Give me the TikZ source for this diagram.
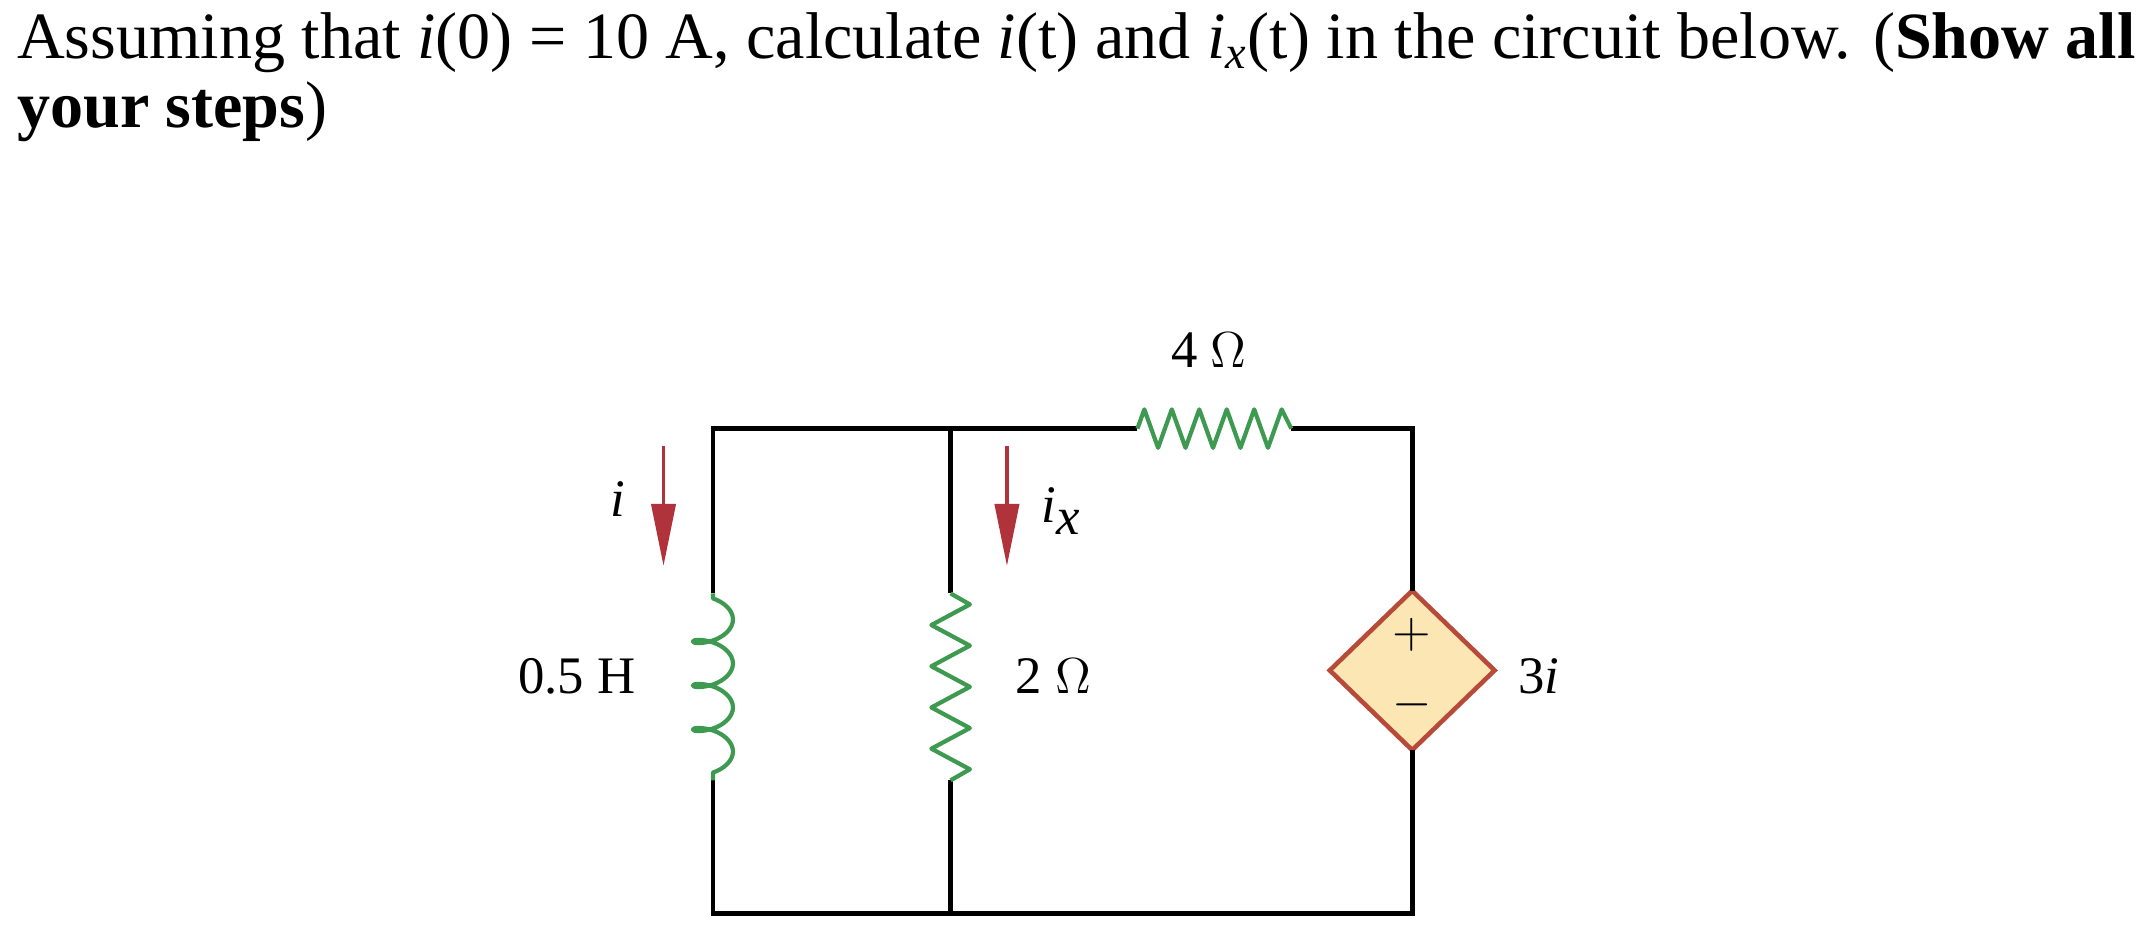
\documentclass[tikz,border=0pt]{standalone}
\usepackage{fontspec}
\setmainfont{Liberation Serif}
\usetikzlibrary{decorations.pathmorphing,arrows.meta}
\definecolor{wgreen}{HTML}{3E9A50}
\definecolor{ared}{HTML}{B0323A}
\definecolor{dfill}{HTML}{FBE6B4}
\definecolor{dborder}{HTML}{B84A3A}
\tikzset{
 wire/.style={line width=1.4pt,black},
 comp/.style={line width=1.2pt,wgreen,line join=round},
 curarrow/.style={line width=1.1pt,ared,-{Triangle[length=0.62cm,width=0.24cm]}},
 lbl/.style={font=\fontsize{15}{18}\selectfont,inner sep=0pt},
}
\begin{document}
\begin{tikzpicture}[x=0.01374cm,y=-0.01374cm]
\useasboundingbox (0,0) rectangle (1568,688);
\node[anchor=north west,align=left,inner sep=0pt,font=\fontsize{18.8}{19.5}\selectfont] (title) at (12,9)
 {Assuming that \textit{i}(0) = 10 A, calculate \textit{i}(t) and \textit{i\textsubscript{x}}(t) in the circuit below. (\textbf{Show all}\\ \textbf{your steps})};
% nodes
\coordinate (tl) at (519,312); \coordinate (tm) at (692,312); \coordinate (tr) at (1028,312);
\coordinate (bl) at (519,665); \coordinate (bm) at (692,665); \coordinate (br) at (1028,665);
\coordinate (la) at (519,432); \coordinate (lb) at (519,568);
\coordinate (ma) at (692,432); \coordinate (mb) at (692,568);
\coordinate (ra) at (828,312); \coordinate (rb) at (940,312);
\coordinate (dt) at (1028,430); \coordinate (db) at (1028,546);
\coordinate (dr) at (1088,488); \coordinate (dl) at (968,488);
\fill[dfill,draw=dborder,line width=1.3pt] (dt) -- (dr) -- (db) -- (dl) -- cycle;
\node[lbl] (plus) at (1028,462) {$+$};
\node[lbl] (minus) at (1028,513) {$-$};
% wires
\draw[wire] (la) -- (tl) -- (ra);
\draw[wire] (tm) -- (ma);
\draw[wire] (rb) -- (tr) -- (dt);
\draw[wire] (db) -- (br) -- (bl) -- (lb);
\draw[wire] (bm) -- (mb);
% inductor
\draw[comp,decorate,decoration={coil,aspect=0.5,segment length=0.44cm,amplitude=0.2cm,pre length=0.05cm,post length=0.05cm}] (la) -- (lb);
% 2 ohm
\draw[comp] (ma) -- (706,440) -- (678,455) -- (706,470) -- (678,485) -- (706,500) -- (678,515) -- (706,530) -- (678,545) -- (706,560) -- (mb);
% 4 ohm
\draw[comp] (ra) -- (833,298) -- (843,326)--(853,298) -- (863,326) -- (873,298) -- (883,326) -- (893,298) -- (903,326)-- (913,298) -- (923,326)--(933,298)--(rb);
% arrows
\coordinate (ia) at (483,325); \coordinate (ib) at (483,412);
\coordinate (xa) at (733,325); \coordinate (xb) at (733,412);
\draw[curarrow] (ia) -- (ib);
\draw[curarrow] (xa) -- (xb);
% labels
\node[lbl] (li) at (450,363) {\textit{i}};
\node[lbl] (lx) at (772,372) {\textit{i}\raisebox{-0.5ex}{\textit{x}}};
\node[lbl] (l4) at (880,255) {4 $\Omega$};
\node[lbl] (lL) at (420,492) {0.5 H};
\node[lbl] (l2) at (767,492) {2 $\Omega$};
\node[lbl] (l3) at (1120,492) {3\textit{i}};
\end{tikzpicture}
\end{document}
